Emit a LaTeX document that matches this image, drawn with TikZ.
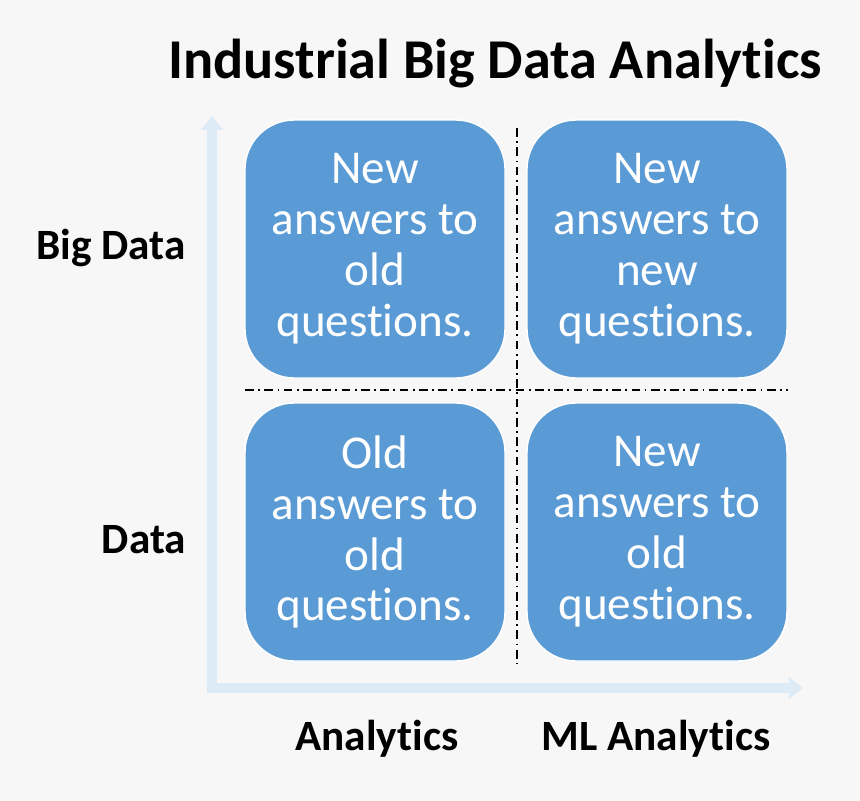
\documentclass[tikz,border=0pt]{standalone}
\usepackage{fontspec}
\setmainfont{Carlito}[Ligatures=NoCommon]
\usetikzlibrary{arrows.meta}
\definecolor{bgray}{HTML}{F7F7F7}
\definecolor{boxblue}{HTML}{5B9BD5}
\definecolor{axblue}{HTML}{DDEBF7}
\definecolor{txblack}{HTML}{000000}

\tikzset{
  quad/.style={fill=boxblue, draw=white, line width=0.8pt, rounded corners=28pt,
    minimum width=260\pxu, minimum height=258\pxu, text=white, align=center,
    font=\fontsize{26.8}{29}\selectfont},
  axlabel/.style={text=txblack, font=\fontsize{24.6}{28}\selectfont\bfseries},
  axarrow/.style={axblue, line width=5.6pt, -{Triangle[length=8pt, width=12pt]}},
  divider/.style={black, line width=1.1pt, dash pattern=on 5pt off 2.5pt on 1pt off 2.5pt}
}
\newcommand{\pxu}{*0.02cm}

\begin{document}
\begin{tikzpicture}[x=0.02cm, y=-0.02cm]

% Background (pixel grid 860 x 801, y downwards)
\fill[bgray] (0,0) rectangle (860,801);
\useasboundingbox (0,0) rectangle (860,801);

% Title
\node[text=txblack, font=\fontsize{32}{36}\selectfont\bfseries] (title) at (495,64)
  {Industrial Big Data Analytics};

% Axes
\coordinate (origin) at (212,688);
\coordinate (ytip) at (212,116);
\coordinate (xtip) at (803,688);
\draw[axarrow] ([yshift=-3pt]origin) -- (ytip);
\draw[axarrow] ([xshift=-3pt]origin) -- (xtip);

% Quadrants
\node[quad] (q11) at (375,249) {New\\answers to\\old\\questions.};
\node[quad] (q12) at (657,249) {New\\answers to\\new\\questions.};
\node[quad] (q21) at (375,532) {Old\\answers to\\old\\questions.};
\node[quad] (q22) at (657,532) {New\\answers to\\old\\questions.};

% Dividers
\coordinate (vtop) at (517,128);
\coordinate (vbot) at (517,664);
\coordinate (hleft) at (245,390);
\coordinate (hright) at (788,390);
\draw[divider] (vtop) -- (vbot);
\draw[divider] (hleft) -- (hright);

% Axis labels
\node[axlabel] (bigdata) at (111,248) {Big Data};
\node[axlabel] (data) at (144,540) {Data};
\node[axlabel] (analytics) at (377,739) {Analytics};
\node[axlabel] (mlanalytics) at (656,739) {ML Analytics};

\end{tikzpicture}
\end{document}
